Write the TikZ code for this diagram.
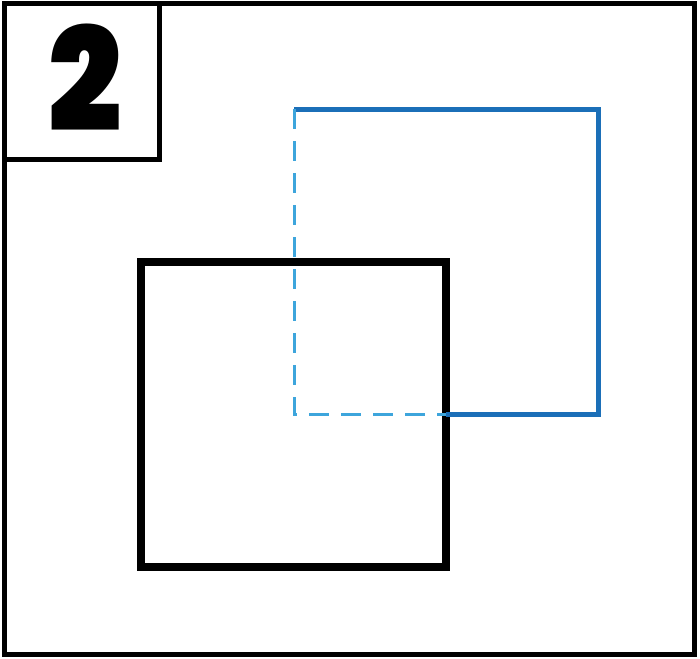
\documentclass[tikz,border=0pt]{standalone}
\usepackage{fontspec}
\usepackage{tikz}
\usepackage{xcolor}
\newfontfamily\numfont{Poppins}[UprightFont=* Black]
\definecolor{sqblue}{HTML}{1B6FB8}
\definecolor{sqlight}{HTML}{3DA5DC}
\tikzstyle{frame} = [draw=black, line width=2.5pt]
\tikzstyle{front} = [draw=black, line width=4pt]
\tikzstyle{back} = [draw=sqblue, line width=2.5pt]
\tikzstyle{hidden} = [draw=sqlight, line width=1.5pt, dash pattern=on 10pt off 6pt]
\tikzstyle{number} = [inner sep=0pt, font=\numfont\fontsize{72}{72}\selectfont]

\begin{document}
\begin{tikzpicture}[x=0.5pt, y=-0.5pt]
    \useasboundingbox (0,0) rectangle (700,658);

            % Frames
            \draw [frame] (4,4) rectangle (694,654);
            \draw [frame] (4,4) rectangle (159,159);
            \node (two) [number] at (85,78) {\scalebox{0.9}[1]{2}};

            % Squares
            \draw [front] (141,262) rectangle (446,567);
            \draw [back] (446,414) -- (598,414) -- (598,109) -- (294,109);
            \draw [hidden] (294,109) -- (294,414) -- (446,414);

        \end{tikzpicture}
\end{document}
